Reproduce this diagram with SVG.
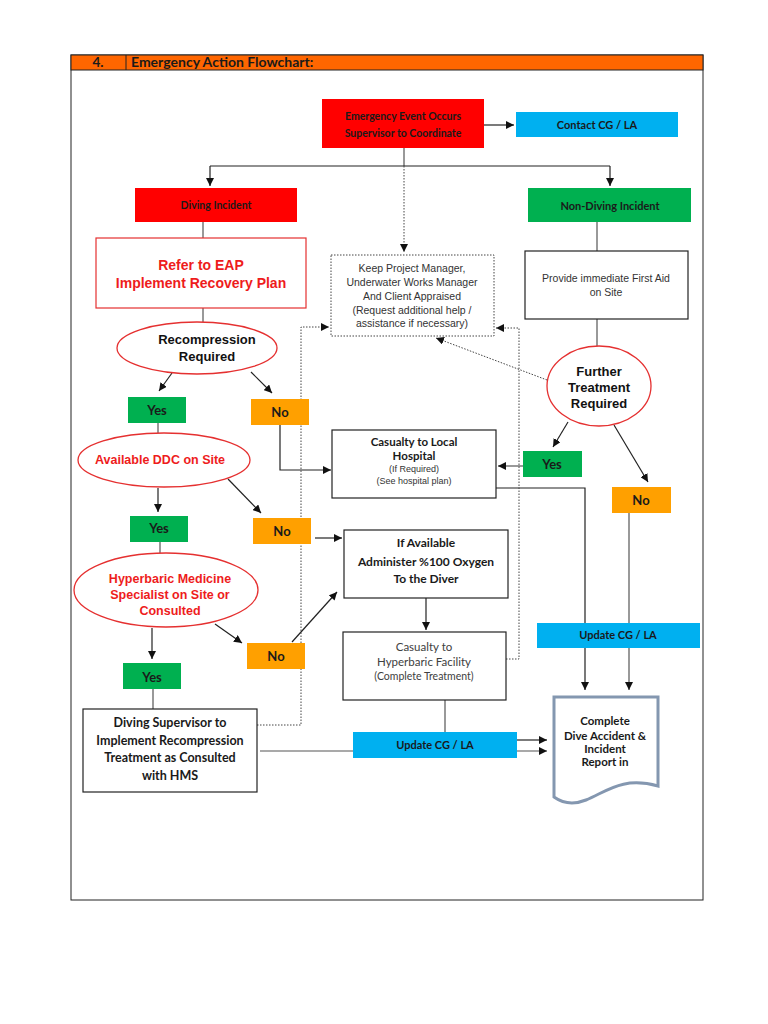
<svg xmlns="http://www.w3.org/2000/svg" width="768" height="1024" viewBox="0 0 768 1024">
<style>
.b{font-family:Lato,"Liberation Sans",sans-serif;font-weight:bold;fill:#1a1a1a;text-anchor:middle}
.t{font-family:"Liberation Sans",Arial,sans-serif;fill:#333;text-anchor:middle}
.rt{font-family:"Liberation Sans",Arial,sans-serif;font-weight:bold;fill:#ee1c1c;text-anchor:middle}
.kt{font-family:"Liberation Sans",Arial,sans-serif;font-weight:bold;fill:#111;text-anchor:middle}
.box{fill:#fff;stroke:#222;stroke-width:1.2}
.ell{fill:#fff;stroke:#e53030;stroke-width:1.3}
.red{fill:#ff0000}
.grn{fill:#00b050}
.org{fill:#ffa000}
.cyn{fill:#00b0f0}
.ln{fill:none;stroke:#222;stroke-width:1.2}
.gl{fill:none;stroke:#555;stroke-width:1.2}
.dl{fill:none;stroke:#444;stroke-width:1;stroke-dasharray:1.5 1.5}
</style>
<defs>
<marker id="ah" viewBox="0 0 10 10" refX="10" refY="5" markerWidth="8" markerHeight="8" orient="auto" markerUnits="userSpaceOnUse"><path d="M0,0 L10,5 L0,10 z" fill="#111"/></marker>
</defs>
<rect width="768" height="1024" fill="#fff"/>
<g id="frame">
<rect x="71" y="55" width="632" height="845" fill="#fff" stroke="#222" stroke-width="1"/>
<rect x="71" y="55" width="632" height="15" fill="#ff6600" stroke="#222" stroke-width="1"/>
<line x1="126" y1="55" x2="126" y2="70" stroke="#222" stroke-width="1"/>
<text x="98" y="67" class="b" style="font-size:13.5px">4.</text>
<text x="131" y="67" class="b" style="font-size:14px;text-anchor:start">Emergency Action Flowchart:</text>
</g>
<g id="connectors">
<path class="ln" d="M484,125 H514" marker-end="url(#ah)"/>
<path class="gl" d="M404,148 V166"/>
<path class="ln" d="M210,166 H610"/>
<path class="ln" d="M210,166 V186" marker-end="url(#ah)"/>
<path class="ln" d="M610,166 V186" marker-end="url(#ah)"/>
<path class="dl" d="M404,166 V252" marker-end="url(#ah)"/>
<path class="gl" d="M203,222 V238"/>
<path class="gl" d="M203,308 V322"/>
<path class="ln" d="M172,373 L159,391" marker-end="url(#ah)"/>
<path class="ln" d="M251,372 L272,393" marker-end="url(#ah)"/>
<path class="gl" d="M597,222 V251"/>
<path class="gl" d="M597,319 V346"/>
<path class="dl" d="M547,380 L436,338" marker-end="url(#ah)"/>
<path class="ln" d="M568,422 L553,447" marker-end="url(#ah)"/>
<path class="ln" d="M614,425 L648,482" marker-end="url(#ah)"/>
<path class="gl" d="M523,466 H498" marker-end="url(#ah)"/>
<path class="ln" d="M280,425 V470 H331" marker-end="url(#ah)"/>
<path class="ln" d="M496,488 H585 V690" marker-end="url(#ah)"/>
<path class="gl" d="M629,513 V690" marker-end="url(#ah)"/>
<path class="gl" d="M158,423 V433"/>
<path class="ln" d="M158,488 V512" marker-end="url(#ah)"/>
<path class="ln" d="M228,479 L261,513" marker-end="url(#ah)"/>
<path class="ln" d="M315,538 H342" marker-end="url(#ah)"/>
<path class="gl" d="M160,542 V553"/>
<path class="ln" d="M152,628 V659" marker-end="url(#ah)"/>
<path class="ln" d="M215,624 L242,643" marker-end="url(#ah)"/>
<path class="ln" d="M292,642 L337,592" marker-end="url(#ah)"/>
<path class="ln" d="M426,598 V630" marker-end="url(#ah)"/>
<path class="gl" d="M445,700 V732"/>
<path class="dl" d="M257,725 H301 V327 H329" marker-end="url(#ah)"/>
<path class="dl" d="M506,659 H519 V328 H496" marker-end="url(#ah)"/>
<path class="gl" d="M153,689 V709"/>
<path class="ln" d="M517,740 H547" marker-end="url(#ah)"/>
<path class="gl" d="M260,751 H547" marker-end="url(#ah)"/>
</g>
<g id="n-emergency"><rect x="322" y="99" width="162" height="49" class="red"/>
<text x="403" y="120" class="b" style="font-size:10.5px">Emergency Event Occurs</text>
<text x="403" y="137" class="b" style="font-size:10.5px">Supervisor to Coordinate</text></g>
<g id="n-contact"><rect x="516" y="112" width="162" height="25" class="cyn"/>
<text x="597" y="129" class="b" style="font-size:11px">Contact CG / LA</text></g>
<g id="n-diving"><rect x="135" y="188" width="162" height="34" class="red"/>
<text x="216" y="209" class="b" style="font-size:10.5px">Diving Incident</text></g>
<g id="n-nondiving"><rect x="528" y="188" width="163" height="34" class="grn"/>
<text x="610" y="210" class="b" style="font-size:11px">Non-Diving Incident</text></g>
<g id="n-refer"><rect x="96" y="238" width="210" height="70" fill="#fff" stroke="#e53030" stroke-width="1.2"/>
<text x="201" y="270" class="rt" style="font-size:14px">Refer to EAP</text>
<text x="201" y="288" class="rt" style="font-size:14px">Implement Recovery Plan</text></g>
<g id="n-recomp"><ellipse cx="197" cy="348" rx="80" ry="26" class="ell"/>
<text x="207" y="344" class="kt" style="font-size:13px">Recompression</text>
<text x="207" y="361" class="kt" style="font-size:13px">Required</text></g>
<g id="n-yes1"><rect x="128" y="397" width="58" height="26" class="grn"/>
<text x="157" y="415" class="b" style="font-size:13px">Yes</text></g>
<g id="n-no1"><rect x="251" y="399" width="58" height="26" class="org"/>
<text x="280" y="417" class="b" style="font-size:13px">No</text></g>
<g id="n-keep"><rect x="331" y="255" width="163" height="81" fill="#fff" stroke="#444" stroke-width="1" stroke-dasharray="1.5 1.5"/>
<text x="412" y="272" class="t" style="font-size:10.5px">Keep Project Manager,</text>
<text x="412" y="286" class="t" style="font-size:10.5px">Underwater Works Manager</text>
<text x="412" y="300" class="t" style="font-size:10.5px">And Client Appraised</text>
<text x="412" y="314" class="t" style="font-size:10.5px">(Request additional help /</text>
<text x="412" y="327" class="t" style="font-size:10.5px">assistance if necessary)</text></g>
<g id="n-firstaid"><rect x="525" y="251" width="163" height="68" class="box"/>
<text x="606" y="282" class="t" style="font-size:10.5px">Provide immediate First Aid</text>
<text x="606" y="296" class="t" style="font-size:10.5px">on Site</text></g>
<g id="n-further"><ellipse cx="599" cy="386" rx="52" ry="40" class="ell"/>
<text x="599" y="376" class="kt" style="font-size:13px">Further</text>
<text x="599" y="392" class="kt" style="font-size:13px">Treatment</text>
<text x="599" y="408" class="kt" style="font-size:13px">Required</text></g>
<g id="n-hospital"><rect x="332" y="430" width="164" height="68" class="box"/>
<text x="414" y="446" class="b" style="font-size:11.5px">Casualty to Local</text>
<text x="414" y="460" class="b" style="font-size:11.5px">Hospital</text>
<text x="414" y="472" class="t" style="font-size:9px">(If Required)</text>
<text x="414" y="484" class="t" style="font-size:9px">(See hospital plan)</text></g>
<g id="n-yes-r"><rect x="523" y="451" width="59" height="26" class="grn"/>
<text x="552" y="469" class="b" style="font-size:13px">Yes</text></g>
<g id="n-no-r"><rect x="612" y="487" width="59" height="26" class="org"/>
<text x="641" y="505" class="b" style="font-size:13px">No</text></g>
<g id="n-ddc"><ellipse cx="164" cy="460" rx="86" ry="27" class="ell"/>
<text x="160" y="464" class="rt" style="font-size:12.5px">Available DDC on Site</text></g>
<g id="n-yes2"><rect x="130" y="516" width="58" height="26" class="grn"/>
<text x="159" y="533" class="b" style="font-size:13px">Yes</text></g>
<g id="n-no2"><rect x="253" y="518" width="58" height="26" class="org"/>
<text x="282" y="536" class="b" style="font-size:13px">No</text></g>
<g id="n-hms"><ellipse cx="166" cy="590" rx="92" ry="37" class="ell"/>
<text x="170" y="583" class="rt" style="font-size:12.5px">Hyperbaric Medicine</text>
<text x="170" y="599" class="rt" style="font-size:12.5px">Specialist on Site or</text>
<text x="170" y="615" class="rt" style="font-size:12.5px">Consulted</text></g>
<g id="n-no3"><rect x="247" y="643" width="58" height="26" class="org"/>
<text x="276" y="661" class="b" style="font-size:13px">No</text></g>
<g id="n-yes3"><rect x="123" y="663" width="58" height="26" class="grn"/>
<text x="152" y="682" class="b" style="font-size:13px">Yes</text></g>
<g id="n-oxygen"><rect x="344" y="530" width="164" height="68" class="box"/>
<text x="426" y="547" class="b" style="font-size:12px">If Available</text>
<text x="426" y="566" class="b" style="font-size:12px">Administer %100 Oxygen</text>
<text x="426" y="583" class="b" style="font-size:12px">To the Diver</text></g>
<g id="n-hyperbaric"><rect x="343" y="632" width="163" height="68" class="box"/>
<text x="424" y="651" style="font-family:Lato,'Liberation Sans',sans-serif;font-size:11.5px;fill:#404040;text-anchor:middle">Casualty to</text>
<text x="424" y="666" style="font-family:Lato,'Liberation Sans',sans-serif;font-size:11.5px;fill:#404040;text-anchor:middle">Hyperbaric Facility</text>
<text x="424" y="680" style="font-family:Lato,'Liberation Sans',sans-serif;font-size:10.5px;fill:#404040;text-anchor:middle">(Complete Treatment)</text></g>
<g id="n-update-r"><rect x="537" y="623" width="163" height="25" class="cyn"/>
<text x="618" y="639" class="b" style="font-size:11px">Update CG / LA</text></g>
<g id="n-update-b"><rect x="353" y="732" width="164" height="26" class="cyn"/>
<text x="435" y="749" class="b" style="font-size:11px">Update CG / LA</text></g>
<g id="n-supervisor"><rect x="83" y="709" width="174" height="83" class="box"/>
<text x="170" y="727" class="b" style="font-size:12.5px">Diving Supervisor to</text>
<text x="170" y="745" class="b" style="font-size:12.5px">Implement Recompression</text>
<text x="170" y="762" class="b" style="font-size:12.5px">Treatment as Consulted</text>
<text x="170" y="780" class="b" style="font-size:12.5px">with HMS</text></g>
<g id="n-report"><path d="M554,697 H658 V786 C622,776 606,792 586,800 C571,806 561,802 554,797 Z" fill="#fff" stroke="#8497b0" stroke-width="3"/>
<text x="605" y="725" class="b" style="font-size:11.5px">Complete</text>
<text x="605" y="740" class="b" style="font-size:11.5px">Dive Accident &amp;</text>
<text x="605" y="753" class="b" style="font-size:11.5px">Incident</text>
<text x="605" y="766" class="b" style="font-size:11.5px">Report in</text></g>
</svg>
